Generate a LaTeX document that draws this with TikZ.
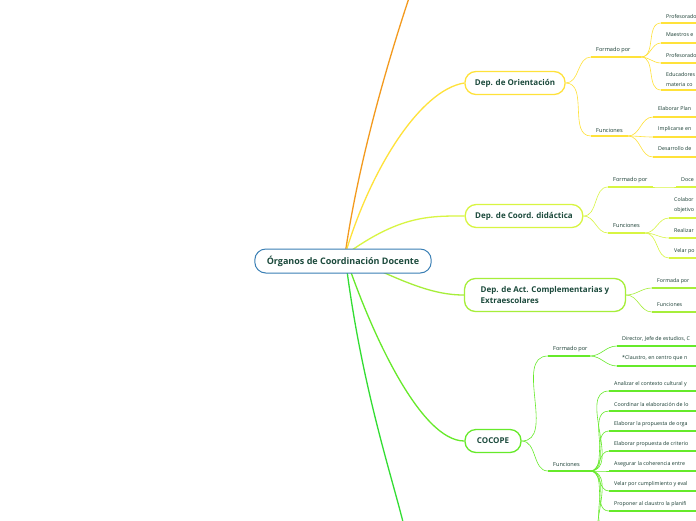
\documentclass[tikz,border=0pt]{standalone}
\usepackage{fontspec}
\setmainfont{Open Sans}
\definecolor{cor}{HTML}{F39A1E}
\definecolor{cye}{HTML}{FFE23A}
\definecolor{cyg}{HTML}{D8F542}
\definecolor{clg}{HTML}{A6EE3A}
\definecolor{cgr}{HTML}{66EA2A}
\definecolor{cbt}{HTML}{33DD33}
\definecolor{ctx}{HTML}{1C4A3C}
\definecolor{cbl}{HTML}{3A7FB5}
\tikzset{
 main/.style={draw=cbl,line width=1pt,rounded corners=11pt,fill=white,font=\fontsize{9}{11}\selectfont\bfseries,text=ctx,minimum height=24pt,inner xsep=12pt},
 topic/.style={line width=1.3pt,rounded corners=11pt,fill=white,font=\fontsize{8}{11}\selectfont\bfseries,text=ctx,minimum height=23pt,inner xsep=10pt},
 sub/.style={font=\fontsize{5.6}{8}\selectfont,text=ctx!80!black,anchor=west,inner sep=0pt},
 leaftext/.style={font=\fontsize{5.3}{10}\selectfont,text=ctx!80!black,anchor=west,inner sep=0pt,align=left},
 ul/.style={line width=1.4pt},
 con/.style={line width=0.6pt},
 br/.style={line width=1.3pt}
}
\newcommand\mleaf[7]{%
 \node[leaftext] (#1) at (#2,#3) {#5};
 \coordinate (#1s) at (#2-5,#4);
 \draw[#6,ul] (#1s) -- (720,#4);
 \draw[#6,con] (#7) to[out=0,in=180] (#1s);
}
\newcommand\msub[8]{%
 \node[sub] (#1) at (#2,#3) {#6};
 \coordinate (#1s) at (#2-5,#4);
 \coordinate (#1e) at (#5,#4);
 \draw[#7,ul] (#1s) -- (#1e);
 \draw[#7,con] (#8) to[out=0,in=180] (#1s);
}
\begin{document}
\begin{tikzpicture}[x=1pt,y=-1pt]
\useasboundingbox (0,0) rectangle (696,520);
\fill[white] (0,0) rectangle (696,520);
\clip (0,0) rectangle (696,520);
\coordinate (hub) at (345,255);
\coordinate (topend) at (409,-2);
\coordinate (botend) at (403,522);
\draw[cor,br] (hub) .. controls (360,150) and (395,40) .. (topend);
\draw[cbt,br] (hub) .. controls (360,380) and (390,470) .. (botend);
\node[topic,draw=cye] (ori) at (515,83) {Dep. de Orientación};
\node[topic,draw=cyg] (coo) at (524,216) {Dep. de Coord. didáctica};
\node[topic,draw=clg,align=left,minimum height=33pt,minimum width=161pt] (act) at (545,295) {Dep. de Act. Complementarias y\\Extraescolares};
\node[topic,draw=cgr,minimum width=56pt] (coc) at (493,441) {COCOPE};
\draw[cye,br] (hub) .. controls (370,170) and (420,90) .. (ori.west);
\draw[cyg,br] (hub) .. controls (400,215) and (430,216) .. (coo.west);
\draw[clg,br] (hub) .. controls (400,280) and (430,295) .. (act.west);
\draw[cgr,br] (hub) .. controls (370,330) and (420,441) .. (coc.west);
\node[main] (cen) at (343,261) {Órganos de Coordinación Docente};
\msub{of}{596}{50}{57}{641}{Formado por}{cye}{ori.east}
\msub{ou}{596}{130}{136}{628}{Funciones}{cye}{ori.east}
\mleaf{o1}{666}{16}{23}{Profesorado}{cye}{ofe}
\mleaf{o2}{666}{35}{43}{Maestros e}{cye}{ofe}
\mleaf{o3}{666}{55}{63}{Profesorado}{cye}{ofe}
\mleaf{o4}{666}{80}{90}{Educadores\\materia co}{cye}{ofe}
\mleaf{o5}{658}{109}{117}{Elaborar Plan}{cye}{oue}
\mleaf{o6}{658}{129}{137}{Implicarse en}{cye}{oue}
\mleaf{o7}{658}{149}{157}{Desarrollo de}{cye}{oue}
\msub{cf}{613}{180}{187}{653}{Formado por}{cyg}{coo.east}
\msub{cu}{613}{225}{233}{645}{Funciones}{cyg}{coo.east}
\mleaf{c1}{681}{180}{187}{Doce}{cyg}{cfe}
\mleaf{c2}{674}{205}{218}{Colabor\\objetivo}{cyg}{cue}
\mleaf{c3}{674}{231}{238}{Realizar}{cyg}{cue}
\mleaf{c4}{674}{251}{258}{Velar po}{cyg}{cue}
\mleaf{af}{657}{281}{288}{Formada por}{clg}{act.east}
\mleaf{au}{657}{305}{312}{Funciones}{clg}{act.east}
\msub{kf}{553}{349}{356}{590}{Formado por}{cgr}{coc.east}
\msub{ku}{553}{464}{471}{590}{Funciones}{cgr}{coc.east}
\mleaf{k1}{622}{339}{346}{Director, Jefe de estudios, C}{cgr}{kfe}
\mleaf{k2}{622}{358}{366}{*Claustro, en centro que n}{cgr}{kfe}
\mleaf{f1}{614}{384}{391}{Analizar el contexto cultural y}{cgr}{kue}
\mleaf{f2}{614}{404}{411}{Coordinar la elaboración de lo}{cgr}{kue}
\mleaf{f3}{614}{424}{431}{Elaborar la propuesta de orga}{cgr}{kue}
\mleaf{f4}{614}{444}{451}{Elaborar propuesta de criterio}{cgr}{kue}
\mleaf{f5}{614}{464}{471}{Asegurar la coherencia entre}{cgr}{kue}
\mleaf{f6}{614}{484}{491}{Velar por cumplimiento y eval}{cgr}{kue}
\mleaf{f7}{614}{504}{511}{Proponer al claustro la planifi}{cgr}{kue}
\mleaf{f8}{614}{524}{531}{}{cgr}{kue}
\mleaf{f9}{614}{544}{551}{}{cgr}{kue}
\end{tikzpicture}
\end{document}
